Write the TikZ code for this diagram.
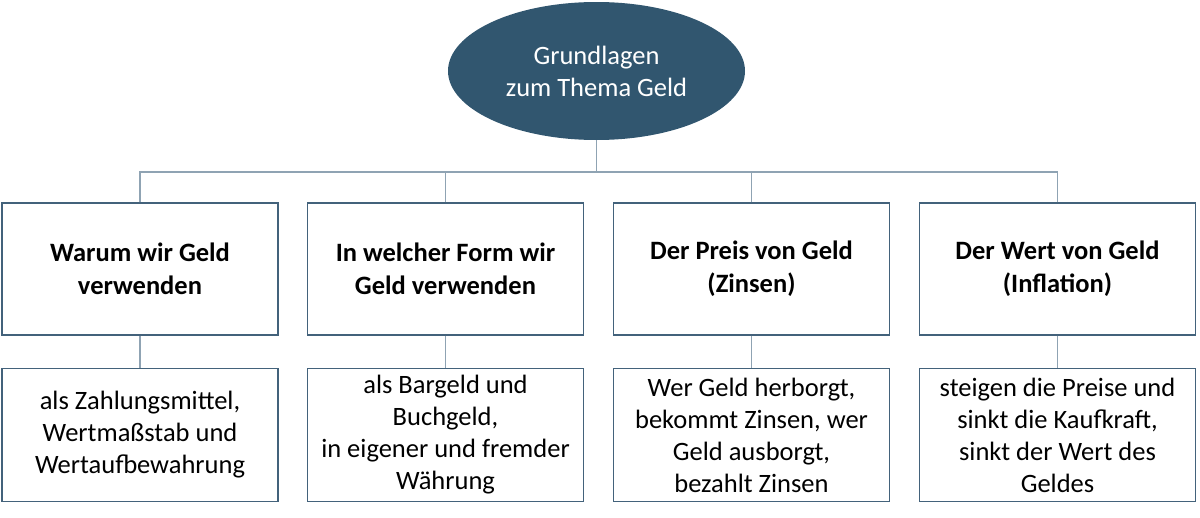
\documentclass[tikz,border=0pt]{standalone}
\usepackage{fontspec}
\setmainfont{Carlito}
\usetikzlibrary{shapes.geometric}
\definecolor{ellfill}{HTML}{31566F}
\definecolor{boxline}{HTML}{43627B}
\definecolor{conn}{HTML}{8FA3B3}
\begin{document}
\begin{tikzpicture}[x=1pt,y=-1pt,
  topbox/.style={draw=boxline,line width=1.3pt,fill=white,minimum width=276pt,minimum height=132pt,align=center,font=\fontsize{26.5}{33}\selectfont\bfseries,inner sep=0pt},
  subbox/.style={draw=boxline,line width=1.3pt,fill=white,minimum width=276pt,minimum height=133pt,align=center,font=\fontsize{26.5}{32}\selectfont,inner sep=0pt},
  connline/.style={draw=conn,line width=1.1pt}]
\useasboundingbox (0,0) rectangle (1200,517);
\node[ellipse,fill=ellfill,minimum width=297pt,minimum height=138pt,inner sep=0pt,align=center,text=white,font=\fontsize{26.5}{32}\selectfont] (root) at (596.5,71) {Grundlagen\\zum Thema Geld};
\coordinate (bar) at (596.5,172);
\node[topbox] (t1) at (140,269) {Warum wir Geld\\verwenden};
\node[topbox] (t2) at (445.5,269) {In welcher Form wir\\Geld verwenden};
\node[topbox] (t3) at (751.5,269) {Der Preis von Geld\\(Zinsen)};
\node[topbox] (t4) at (1057.5,269) {Der Wert von Geld\\(Inflation)};
\node[subbox] (s1) at (140,435) {als Zahlungsmittel,\\Wertmaßstab und\\Wertaufbewahrung};
\node[subbox] (s2) at (445.5,435) {als Bargeld und\\Buchgeld,\\in eigener und fremder\\Währung};
\node[subbox] (s3) at (751.5,435) {Wer Geld herborgt,\\bekommt Zinsen, wer\\Geld ausborgt,\\bezahlt Zinsen};
\node[subbox] (s4) at (1057.5,435) {steigen die Preise und\\sinkt die Kaufkraft,\\sinkt der Wert des\\Geldes};
\draw[connline] (root.south) -- (bar);
\foreach \i in {1,2,3,4}{
  \draw[connline] (t\i.north) |- (bar);
  \draw[connline] (t\i.south) -- (s\i.north);
}
\end{tikzpicture}
\end{document}
